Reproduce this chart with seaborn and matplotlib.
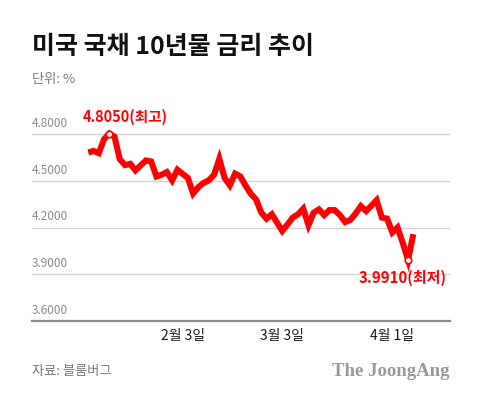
import numpy as np
import pandas as pd
import matplotlib
matplotlib.use("Agg")
import matplotlib.pyplot as plt
import seaborn as sns

# ---- data (trading-day index, 10y yield %) ----
yields = [4.683, 4.693, 4.679, 4.768, 4.805, 4.785, 4.640, 4.602, 4.610, 4.568,
          4.600, 4.632, 4.625, 4.529, 4.540, 4.557, 4.504, 4.572, 4.545, 4.519,
          4.419, 4.460, 4.487, 4.504, 4.540, 4.642, 4.519, 4.472, 4.547, 4.529,
          4.470, 4.417, 4.381, 4.296, 4.257, 4.285, 4.232, 4.178, 4.220, 4.264,
          4.285, 4.321, 4.215, 4.296, 4.317, 4.280, 4.312, 4.312, 4.280, 4.235,
          4.249, 4.290, 4.338, 4.306, 4.340, 4.376, 4.264, 4.257, 4.168, 4.200,
          4.100, 3.991, 4.157]
day_index = list(range(len(yields)))
tick_index = [18, 37, 58]
tick_labels = ["2월 3일", "3월 3일", "4월 1일"]
y_ticks = [3.6, 3.9, 4.2, 4.5, 4.8]
y_tick_labels = ["3.6000", "3.9000", "4.2000", "4.5000", "4.8000"]
high_label = "4.8050(최고)"
low_label = "3.9910(최저)"

df = pd.DataFrame({"day": day_index, "yield": yields})

sns.set_style("white")
plt.rcParams['font.family'] = ['Noto Sans CJK KR', 'DejaVu Sans']

RED = "#ff0000"
fig = plt.figure(figsize=(4.8, 3.98), dpi=100)
ax = fig.add_axes([32/480, 1-320.7/398, (450-32)/480, (320.7-118.8)/398])

ax.set_xlim(-10.74, 69.0)
ax.set_ylim(3.6, 4.9)

# grid lines
for v in y_ticks[1:]:
    ax.axhline(v, color="#d4d4d4", lw=1.0, zorder=1)

sns.lineplot(data=df, x="day", y="yield", ax=ax, color=RED, lw=4.4,
             zorder=3, solid_joinstyle="miter", solid_capstyle="butt")

# y labels above gridlines
for v, lab in zip(y_ticks, y_tick_labels):
    ax.annotate(lab, xy=(0, v), xycoords=("axes fraction", "data"),
                xytext=(0, 3), textcoords="offset points",
                ha="left", va="bottom", fontsize=8.5, color="#8a8a8a")

# extremes
imax = int(np.argmax(yields))
imin = int(np.argmin(yields))
ax.scatter([day_index[imax], day_index[imin]], [yields[imax], yields[imin]],
           s=22, facecolor="white", edgecolor=RED, linewidth=1.2, zorder=5)
ax.annotate(high_label, xy=(day_index[imax], yields[imax]), xytext=(-19, 6),
            textcoords="offset points", ha="left", va="bottom",
            fontsize=10.5, fontweight="bold", color=RED)
ax.annotate(low_label, xy=(day_index[imin], yields[imin]), xytext=(28, -7),
            textcoords="offset points", ha="right", va="top",
            fontsize=10.8, fontweight="bold", color=RED)

# axes styling
for s in ["top", "right", "left"]:
    ax.spines[s].set_visible(False)
ax.spines["bottom"].set_color("#8c8c8c")
ax.spines["bottom"].set_linewidth(1.6)
ax.set_yticks([])
ax.set_xticks(tick_index)
ax.set_xticklabels(tick_labels, fontsize=10, color="#1a1a1a")
ax.tick_params(axis="x", direction="in", length=5, width=1, color="#555555", pad=6)
ax.set_xlabel("")
ax.set_ylabel("")

# texts
fig.text(32/480, 1-47/398, "미국 국채 10년물 금리 추이", ha="left", va="center",
         fontsize=18, fontweight="bold", color="#111111")
fig.text(32/480, 1-80/398, "단위: %", ha="left", va="center",
         fontsize=9.5, color="#777777")
fig.text(32/480, 1-372/398, "자료: 블룸버그", ha="left", va="center",
         fontsize=9.5, color="#777777")
fig.text(450/480, 1-372/398, "The JoongAng", ha="right", va="center",
         fontsize=13.5, fontweight="bold", color="#999999", family="Liberation Serif")

fig.savefig("out.png", dpi=100, facecolor="white")
